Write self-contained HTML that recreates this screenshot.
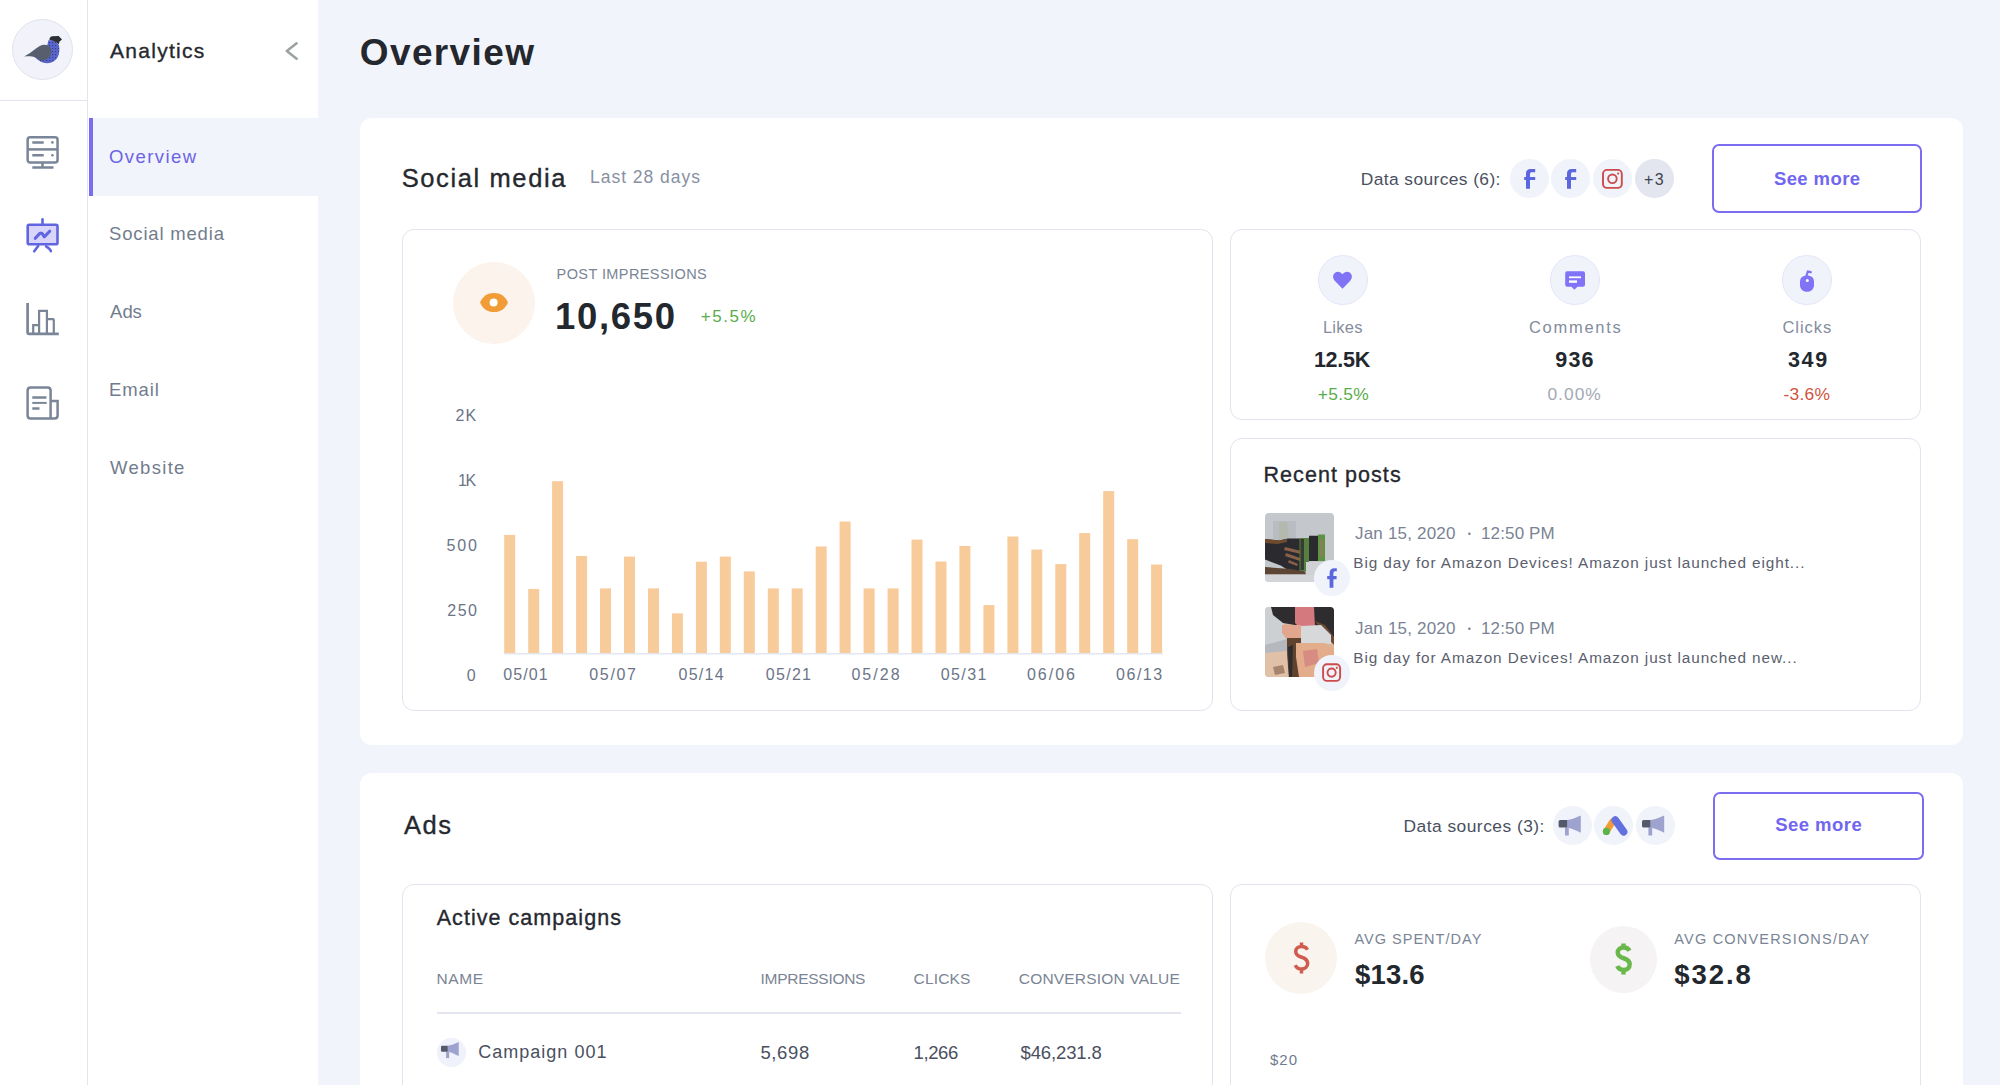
<!DOCTYPE html>
<html><head><meta charset="utf-8"><title>Overview</title>
<style>
*{box-sizing:border-box;margin:0;padding:0}
html,body{width:2000px;height:1085px;overflow:hidden}
body{background:#f2f4fb;font-family:"Liberation Sans",Arial,sans-serif;color:#23262d;position:relative}
.abs{position:absolute}
.t{position:absolute;line-height:1;white-space:nowrap}
.rail{left:0;top:0;width:88px;height:1085px;background:#fff;border-right:1px solid #e2e5ef}
.logo{left:12px;top:19px;width:61px;height:61px;border-radius:50%;background:#f1f2fa;border:1px solid #e0e3ec}
.rail-line{left:0;top:100px;width:87px;height:1px;background:#e2e5ef}
.subnav{left:88px;top:0;width:230px;height:1085px;background:#fff}
.navact{left:89px;top:118px;width:229px;height:78px;background:#f2f4fb;border-left:4px solid #7b6cf0}
.card{background:#fff;border-radius:12px}
.inner{background:#fff;border:1px solid #e1e4ee;border-radius:12px}
.btn{border:2px solid #7b6cf0;border-radius:7px;background:#fff}
.circ{border-radius:50%}
</style></head>
<body>
<!-- left rail -->
<div class="abs rail"></div>
<div class="abs logo"></div>
<svg class="abs" style="left:10px;top:15px" width="70" height="70" viewBox="0 0 70 70">
  <defs><pattern id="dith" width="3" height="3" patternUnits="userSpaceOnUse"><rect width="3" height="3" fill="#5b69e6"/><rect width="1.2" height="1.2" fill="#3a3f58"/><rect x="1.5" y="1.5" width="1" height="1" fill="#4a5270"/></pattern></defs>
  <path d="M38.4 25.2 L43 25.2 C46 26.5 48.5 28.5 49.2 31.5 C49.6 35 49.4 39 47.5 42.5 C45.5 46 42 48 37.5 48.3 C33.5 48.3 30 46.8 27.5 44.5 L24 41.6 L36 36 Z" fill="url(#dith)"/>
  <path d="M14.2 41.6 C18 39.5 22 36.5 26 33.5 C29 31.2 31.5 30 34.2 29.8 C37.5 29.8 40 31.2 41 33.5 C41.8 36 41.2 39 40.2 40.8 C38.8 43 36.5 45 33.5 45.6 C30.5 45.6 28.5 44.5 27.5 43.6 C25.5 42.2 23 41.4 20 41.3 C18 41.3 16 41.5 14.2 41.6 Z" fill="#575f6f"/>
  <path d="M39.4 24.8 C39.4 23 40.4 21.4 42 21.2 L48.7 21.1 L52 24.5 L49.4 26.8 L48.8 29.4 C47 27.4 44.5 25.8 42 25.4 Z" fill="#2c2f36"/>
</svg>
<div class="abs rail-line"></div>
<!-- server icon -->
<svg class="abs" style="left:20px;top:128px" width="46" height="46" viewBox="0 0 46 46" fill="none" stroke="#7a8597" stroke-width="2.5">
  <rect x="7.65" y="9.25" width="29.9" height="25.3" rx="2.5"/>
  <path d="M7.65 21.4 H37.55"/>
  <path d="M12.3 14.4 H23.7 M12.3 27.3 H23.7"/>
  <path d="M22.5 34.5 V39.4 M12.3 39.4 H33.5"/>
  <circle cx="32.4" cy="14.4" r="1.3" fill="#7a8597" stroke="none"/>
  <circle cx="32.4" cy="27.3" r="1.3" fill="#7a8597" stroke="none"/>
</svg>
<!-- presentation icon -->
<svg class="abs" style="left:20px;top:212px" width="46" height="46" viewBox="0 0 46 46" fill="none" stroke="#5f66e0" stroke-width="2.6" stroke-linecap="round" stroke-linejoin="round">
  <rect x="7.7" y="12.7" width="29.8" height="19.5" rx="1.5" fill="#d9d5fa"/>
  <path d="M22.5 7.4 V12.7"/>
  <path d="M15.3 26.3 L19.9 21.3 L22 21.3 L24.4 24.8 L29.7 19.2" stroke-width="3.1"/>
  <path d="M18.2 33.9 L14.2 39.3 M26.1 34.3 C28.5 35.8 30.6 37.3 30.9 39.3"/>
</svg>
<!-- bar chart icon -->
<svg class="abs" style="left:20px;top:296px" width="46" height="46" viewBox="0 0 46 46" fill="none" stroke="#7a8597" stroke-width="2.2">
  <path d="M7.6 7 V36.3 Q7.6 37.8 9 37.8 H38.8" stroke-width="2.7"/>
  <path d="M13.2 37 V29.1 H18.2 M19.1 37 V14.9 H26.9 V37 M26.9 23.1 H33 Q33.8 23.1 33.8 24 V37"/>
</svg>
<!-- document icon -->
<svg class="abs" style="left:20px;top:380px" width="46" height="46" viewBox="0 0 46 46" fill="none" stroke="#7a8597" stroke-width="2.5">
  <path d="M30.6 38.6 H10.5 Q7.6 38.6 7.6 35.6 V10.6 Q7.6 7.6 10.6 7.6 H27.6 Q30.6 7.6 30.6 10.6 V38.6 H34.6 Q37.6 38.6 37.6 35.6 V21.1 H30.6"/>
  <path d="M12.3 17.4 H26.4 M12.3 28.4 H19.5"/>
  <path d="M12.3 22.9 H26.7" stroke-width="2"/>
</svg>


<div class="abs subnav"></div><div class="abs navact"></div>
<svg class="abs" style="left:270px;top:30px" width="40" height="40" viewBox="0 0 40 40" fill="none" stroke="#9aa39e" stroke-width="2.6" stroke-linecap="round" stroke-linejoin="round"><path d="M26.6 13.3 L16.8 21 L26.6 28.7"/></svg>
<div class="abs card" style="left:360px;top:118px;width:1603px;height:627px"></div>
<div class="abs btn" style="left:1712px;top:144px;width:210px;height:69px"></div>
<div class="abs circ" style="left:1510.2px;top:159.2px;width:38.5px;height:38.5px;background:#f1f3fb"></div>
<div class="abs circ" style="left:1551.2px;top:159.2px;width:38.5px;height:38.5px;background:#f1f3fb"></div>
<div class="abs circ" style="left:1593.2px;top:159.2px;width:38.5px;height:38.5px;background:#f1f3fb"></div>
<div class="abs circ" style="left:1635.3px;top:159.2px;width:38.5px;height:38.5px;background:#e3e6ee"></div>
<svg class="abs" style="left:0;top:0" width="2000" height="1085"><path d="M1526 188.7 V173.6 Q1526 169 1530.6 169 H1535.2 V172.3 H1531.4 Q1530 172.3 1530 174 V188.7 Z M1524.2 176.9 H1535.2 V180 H1524.2 Z" fill="#5a67de"/><path d="M1567 188.7 V173.6 Q1567 169 1571.6 169 H1576.2 V172.3 H1572.4 Q1571 172.3 1571 174 V188.7 Z M1565.2 176.9 H1576.2 V180 H1565.2 Z" fill="#5a67de"/><rect x="1603" y="169.9" width="18.8" height="18" rx="4" fill="none" stroke="#cc4b4b" stroke-width="1.9"/><circle cx="1612.4" cy="178.8" r="4.3" fill="none" stroke="#cc4b4b" stroke-width="1.9"/><circle cx="1618.1" cy="173.6" r="1.1" fill="#cc4b4b"/></svg>
<div class="abs inner" style="left:402px;top:229px;width:811px;height:482px"></div>
<div class="abs inner" style="left:1230px;top:229px;width:691px;height:191px"></div>
<div class="abs inner" style="left:1230px;top:438px;width:691px;height:273px"></div>
<div class="abs circ" style="left:452.5px;top:261.6px;width:82px;height:82px;background:#fbf3ec"></div>
<svg class="abs" style="left:0;top:0" width="2000" height="1085"><path d="M480 302.5 C483 296 487.5 292.9 494 292.9 C500.5 292.9 505 296 508 302.5 C505 309 500.5 312.1 494 312.1 C487.5 312.1 483 309 480 302.5 Z" fill="#f29c38"/><circle cx="493.6" cy="302.6" r="4" fill="#fff"/></svg>
<svg class="abs" style="left:0;top:0" width="2000" height="1085"><g fill="#f8cb9b"><rect x="504.2" y="534.9" width="11" height="118.6"/><rect x="528.2" y="589.0" width="11" height="64.5"/><rect x="552.1" y="481.2" width="11" height="172.3"/><rect x="576.1" y="556.0" width="11" height="97.5"/><rect x="600.0" y="588.4" width="11" height="65.1"/><rect x="624.0" y="556.6" width="11" height="96.9"/><rect x="648.0" y="588.4" width="11" height="65.1"/><rect x="671.9" y="613.4" width="11" height="40.1"/><rect x="695.9" y="561.7" width="11" height="91.8"/><rect x="719.8" y="556.6" width="11" height="96.9"/><rect x="743.8" y="571.4" width="11" height="82.1"/><rect x="767.8" y="588.4" width="11" height="65.1"/><rect x="791.7" y="588.4" width="11" height="65.1"/><rect x="815.7" y="546.5" width="11" height="107.0"/><rect x="839.6" y="521.5" width="11" height="132.0"/><rect x="863.6" y="588.4" width="11" height="65.1"/><rect x="887.6" y="588.4" width="11" height="65.1"/><rect x="911.5" y="539.6" width="11" height="113.9"/><rect x="935.5" y="561.5" width="11" height="92.0"/><rect x="959.4" y="546.0" width="11" height="107.5"/><rect x="983.4" y="605.1" width="11" height="48.4"/><rect x="1007.4" y="536.5" width="11" height="117.0"/><rect x="1031.3" y="549.5" width="11" height="104.0"/><rect x="1055.3" y="564.1" width="11" height="89.4"/><rect x="1079.2" y="533.1" width="11" height="120.4"/><rect x="1103.2" y="491.1" width="11" height="162.4"/><rect x="1127.2" y="539.2" width="11" height="114.3"/><rect x="1151.1" y="564.5" width="11" height="89.0"/></g><rect x="504" y="653" width="659" height="1.5" fill="#e4e7ef"/></svg>
<div class="abs circ" style="left:1318px;top:255.3px;width:50px;height:50px;background:#f1f3fb;border:1px solid #e6e4fa"></div>
<div class="abs circ" style="left:1550px;top:255.3px;width:50px;height:50px;background:#f1f3fb;border:1px solid #e6e4fa"></div>
<div class="abs circ" style="left:1782px;top:255.3px;width:50px;height:50px;background:#f1f3fb;border:1px solid #e6e4fa"></div>
<svg class="abs" style="left:0;top:0" width="2000" height="1085"><g fill="#8073f5"><path d="M1342.5 288.7 L1335 281 C1332.4 278.3 1332.6 274.8 1334.8 273 C1337.2 271 1340.4 271.6 1342.5 274.3 C1344.6 271.6 1347.8 271 1350.2 273 C1352.4 274.8 1352.6 278.3 1350 281 Z"/><path d="M1567.2 271.2 H1583 Q1585 271.2 1585 273.2 V284.7 Q1585 286.7 1583 286.7 H1577.4 L1574.4 289.7 L1571.4 286.7 H1567.2 Q1565.2 286.7 1565.2 284.7 V273.2 Q1565.2 271.2 1567.2 271.2 Z"/><path d="M1807 275.6 C1811.6 275.6 1814 278 1814 282 V285 C1814 289.2 1811 291.8 1807 291.8 C1803 291.8 1800 289.2 1800 285 V282 C1800 278 1802.4 275.6 1807 275.6 Z"/></g><g stroke="#fff" stroke-width="1.8" stroke-linecap="butt"><path d="M1569 277.3 H1581"/><path d="M1569 281.6 H1577" stroke-width="2.4"/></g><path d="M1806.6 275.5 L1807.8 271.6 L1810.8 272.2" fill="none" stroke="#8073f5" stroke-width="2.2" stroke-linecap="round"/><circle cx="1807.3" cy="280.6" r="1.5" fill="#fff"/></svg>
<svg class="abs" style="left:1265px;top:513px" width="69" height="69" viewBox="0 0 69 69"><defs><clipPath id="c1"><rect width="69" height="69" rx="4"/></clipPath></defs><g clip-path="url(#c1)">
<rect width="69" height="69" fill="#c4c7cb"/>
<path d="M8 8 L31 8 L31 26 L8 28 Z" fill="#b9bdc2"/>
<path d="M14 9 L22 9 L24 26 L14 27 Z" fill="#b3b9ae"/>
<path d="M0 26 L14 27.5 L23 25.6 L38.5 25.6 L39 58.7 L27 59.6 L15.6 52.5 L0 46.5 Z" fill="#2b2b2f"/>
<path d="M0 26 L14 27.5 L22 26 L22 29 L13 31 L0 30 Z" fill="#6e4a2e"/>
<path d="M20 34 L36 38 L36 41 L19 37 Z M21 40 L35 45 L35 48 L20 43 Z M24 47 L33 51 L32 53 L23 49.5 Z" fill="#8a6048"/>
<path d="M34.5 25 L44 25 L44 58.5 L34.5 58.5 Z" fill="#56803f"/>
<path d="M35.5 26 L39 26 L39 57 L35.5 57 Z" fill="#3a3a35"/>
<path d="M44 22.8 L55 22.8 L55 48 L44 48 Z" fill="#2b2b2f"/>
<path d="M53 21.6 L60 21.6 L60 48 L53 48 Z" fill="#5a9444"/><path d="M55 26 L58 26 L58 44 L55 44 Z" fill="#b86a6a" opacity=".5"/>
<path d="M0 54 L26 56 L40 58.5 L41 61.5 L0 61.5 Z" fill="#5c4535"/>
<rect y="61.5" width="69" height="7.5" fill="#d3d5d8"/>
<path d="M41 49 L69 49 L69 61.5 L41 61.5 Z" fill="#cfd1d4"/>
</g></svg>
<svg class="abs" style="left:1265px;top:607px" width="69" height="70" viewBox="0 0 69 70"><defs><clipPath id="c2"><rect width="69" height="70" rx="4"/></clipPath></defs><g clip-path="url(#c2)">
<rect width="69" height="70" fill="#d9b59c"/>
<path d="M0 0 L19 0 L19 30 L28 33 L22 40 L0 46 Z" fill="#cdd0d3"/>
<path d="M0 38 L22 32 L30 34 L24 44 L0 47 Z" fill="#b5b9bd"/>
<path d="M6 0 L69 0 L69 36 L62 28 L50 18 L30 18 L18 16 L8 8 Z" fill="#2e2c2f"/>
<path d="M50 14 L60 18 L69 30 L69 38 L60 28 Z" fill="#6a4a35"/>
<path d="M30 0 L49 0 L50 20 L36 22 L30 16 Z" fill="#d47a7e"/>
<path d="M17 18 L36 18 L37 31 L22 32 L17 26 Z" fill="#e2a58e"/>
<path d="M36 19 L56 18 L66 28 L66 37 L36 36 Z" fill="#d6d8da"/>
<path d="M22 31 L36 31 L36 70 L24 70 L22 50 Z" fill="#5f432f"/>
<path d="M23 40 L28 38 L27 70 L24 70 Z" fill="#2f2c2d"/>
<path d="M31 36 L60 36 L69 42 L69 70 L34 70 L31 50 Z" fill="#e3ad8c"/>
<path d="M38 44 L52 42 L54 56 L40 60 Z" fill="#d27d7f" opacity=".7"/>
<path d="M0 46 L22 44 L23 70 L0 70 Z" fill="#e0c0a7"/>
<path d="M8 60 L18 58 L20 66 L10 68 Z" fill="#8d6a52" opacity=".7"/>
</g></svg>
<svg class="abs" style="left:0;top:0" width="2000" height="1085"><circle cx="1469.4" cy="533.8" r="1.3" fill="#7a8394"/><circle cx="1469.4" cy="628.8" r="1.3" fill="#7a8394"/></svg>
<div class="abs circ" style="left:1313.8px;top:560.1px;width:36px;height:36px;background:#f1f3fb"></div>
<div class="abs circ" style="left:1313.8px;top:654.5px;width:36px;height:36px;background:#f1f3fb"></div>
<svg class="abs" style="left:0;top:0" width="2000" height="1085"><path d="M1329.6 587.7 V573 Q1329.6 568.2 1334.4 568.2 H1336.8 V571.3 H1335 Q1333.4 571.3 1333.4 573.2 V587.7 Z M1327.2 576 H1336.6 V579.2 H1327.2 Z" fill="#5a67de"/><rect x="1323.1" y="664.3" width="17" height="16.6" rx="3.8" fill="none" stroke="#cc4b4b" stroke-width="1.9"/><circle cx="1331.6" cy="672.6" r="4.1" fill="none" stroke="#cc4b4b" stroke-width="1.9"/><circle cx="1336.8" cy="667.8" r="1.1" fill="#cc4b4b"/></svg>
<div class="abs card" style="left:360px;top:773px;width:1603px;height:400px"></div>
<div class="abs btn" style="left:1713px;top:792px;width:211px;height:68px"></div>
<div class="abs circ" style="left:1553.0px;top:806px;width:38.5px;height:38.5px;background:#f1f3fb"></div>
<div class="abs circ" style="left:1594.2px;top:806px;width:38.5px;height:38.5px;background:#f1f3fb"></div>
<div class="abs circ" style="left:1636.3px;top:806px;width:38.5px;height:38.5px;background:#f1f3fb"></div>
<svg class="abs" style="left:0;top:0" width="2000" height="1085"><g transform="translate(1553,806)"><path d="M14 14.1 C18 13.6 23 11.6 27.8 9.4 V26.8 C23 24.6 18 22 14 21.5 Z" fill="#9ea2cf"/><path d="M12 21.5 H15.8 V29.5 H12 Z" fill="#9ea2cf"/><path d="M7.1 14.1 H14.1 V21.5 H7.1 Q5.6 21.5 5.6 20 V15.6 Q5.6 14.1 7.1 14.1 Z" fill="#535a6b"/></g><g transform="translate(1636.4,806)"><path d="M14 14.1 C18 13.6 23 11.6 27.8 9.4 V26.8 C23 24.6 18 22 14 21.5 Z" fill="#9ea2cf"/><path d="M12 21.5 H15.8 V29.5 H12 Z" fill="#9ea2cf"/><path d="M7.1 14.1 H14.1 V21.5 H7.1 Q5.6 21.5 5.6 20 V15.6 Q5.6 14.1 7.1 14.1 Z" fill="#535a6b"/></g><path d="M1612.3 822 L1607 830.6" stroke="#f29c38" stroke-width="6.6" stroke-linecap="round"/><path d="M1615.2 820 L1623.6 831.8" stroke="#6270e0" stroke-width="7.6" stroke-linecap="round"/><circle cx="1606.4" cy="831.4" r="3.6" fill="#5cb346"/></svg>
<div class="abs inner" style="left:402px;top:884px;width:811px;height:300px"></div>
<div class="abs inner" style="left:1230px;top:884px;width:691px;height:300px"></div>
<div class="abs" style="left:437px;top:1012px;width:744px;height:2px;background:#e3e6ee"></div>
<div class="abs circ" style="left:437.1px;top:1037.5px;width:29.4px;height:29.4px;background:#eff1fb"></div>
<svg class="abs" style="left:0;top:0" width="2000" height="1085"><g transform="translate(436.5,1034.5) scale(0.8)"><path d="M14 14.1 C18 13.6 23 11.6 27.8 9.4 V26.8 C23 24.6 18 22 14 21.5 Z" fill="#9ea2cf"/><path d="M12 21.5 H15.8 V29.5 H12 Z" fill="#9ea2cf"/><path d="M7.1 14.1 H14.1 V21.5 H7.1 Q5.6 21.5 5.6 20 V15.6 Q5.6 14.1 7.1 14.1 Z" fill="#535a6b"/></g></svg>
<div class="abs circ" style="left:1265px;top:922.1px;width:72px;height:72px;background:#faf4ef"></div>
<div class="abs circ" style="left:1590px;top:926px;width:67px;height:67px;background:#f5f3f3"></div>
<svg class="abs" style="left:1292.5px;top:941.5px" width="17" height="32" viewBox="0 0 16 30" preserveAspectRatio="none"><path d="M13.6 7.2 C12.6 5.2 10.6 4.2 8 4.2 C4.8 4.2 2.6 6.1 2.6 8.8 C2.6 12 5.4 13.4 8.2 14.3 C11.4 15.3 13.8 16.8 13.8 20.2 C13.8 23.3 11.3 25.3 8 25.3 C5.2 25.3 3.1 24 2.2 21.6 M8 0.5 V4.2 M8 25.3 V29.5" fill="none" stroke="#d05c50" stroke-width="3.3"/></svg>
<svg class="abs" style="left:1615px;top:943px" width="17" height="32" viewBox="0 0 16 30" preserveAspectRatio="none"><path d="M13.6 7.2 C12.6 5.2 10.6 4.2 8 4.2 C4.8 4.2 2.6 6.1 2.6 8.8 C2.6 12 5.4 13.4 8.2 14.3 C11.4 15.3 13.8 16.8 13.8 20.2 C13.8 23.3 11.3 25.3 8 25.3 C5.2 25.3 3.1 24 2.2 21.6 M8 0.5 V4.2 M8 25.3 V29.5" fill="none" stroke="#6ab74c" stroke-width="4.2"/></svg>
<div class="t" style="left:110.1px;top:40.0px;font-size:21px;font-weight:400;color:#25282e;letter-spacing:1.26px;-webkit-text-stroke:0.35px currentColor">Analytics</div>
<div class="t" style="left:109.0px;top:147.7px;font-size:18.5px;font-weight:400;color:#6c63e6;letter-spacing:1.43px;">Overview</div>
<div class="t" style="left:109.1px;top:224.8px;font-size:18.5px;font-weight:400;color:#727c8d;letter-spacing:0.81px;">Social media</div>
<div class="t" style="left:110.1px;top:303.0px;font-size:18.5px;font-weight:400;color:#727c8d;letter-spacing:-0.05px;">Ads</div>
<div class="t" style="left:109.1px;top:381.0px;font-size:18.5px;font-weight:400;color:#727c8d;letter-spacing:0.85px;">Email</div>
<div class="t" style="left:110.1px;top:458.8px;font-size:18.5px;font-weight:400;color:#727c8d;letter-spacing:1.30px;">Website</div>
<div class="t" style="left:359.8px;top:34.3px;font-size:37px;font-weight:700;color:#24272d;letter-spacing:1.37px;">Overview</div>
<div class="t" style="left:401.7px;top:165.7px;font-size:25.5px;font-weight:400;color:#25282e;letter-spacing:1.61px;-webkit-text-stroke:0.35px currentColor">Social media</div>
<div class="t" style="left:590.0px;top:169.0px;font-size:17.5px;font-weight:400;color:#8790a3;letter-spacing:0.98px;">Last 28 days</div>
<div class="t" style="left:1360.8px;top:170.8px;font-size:17.4px;font-weight:400;color:#4a5060;letter-spacing:0.39px;">Data sources (6):</div>
<div class="t" style="left:1773.9px;top:169.7px;font-size:18.5px;font-weight:700;color:#7166f0;letter-spacing:0.41px;">See more</div>
<div class="t" style="left:1644.0px;top:171.7px;font-size:16px;font-weight:400;color:#3e4350;letter-spacing:1.40px;">+3</div>
<div class="t" style="left:556.6px;top:266.7px;font-size:14.5px;font-weight:400;color:#7a8494;letter-spacing:0.41px;">POST IMPRESSIONS</div>
<div class="t" style="left:555.0px;top:299.4px;font-size:36.5px;font-weight:700;color:#23272e;letter-spacing:1.68px;">10,650</div>
<div class="t" style="left:700.8px;top:308.3px;font-size:17px;font-weight:400;color:#5aac4a;letter-spacing:1.53px;">+5.5%</div>
<div class="t" style="left:1322.9px;top:318.8px;font-size:16.5px;font-weight:400;color:#838c9c;letter-spacing:0.27px;">Likes</div>
<div class="t" style="left:1528.9px;top:318.8px;font-size:16.5px;font-weight:400;color:#838c9c;letter-spacing:1.73px;">Comments</div>
<div class="t" style="left:1782.4px;top:318.8px;font-size:16.5px;font-weight:400;color:#838c9c;letter-spacing:0.98px;">Clicks</div>
<div class="t" style="left:1313.9px;top:349.8px;font-size:21.5px;font-weight:700;color:#23272e;letter-spacing:-0.23px;">12.5K</div>
<div class="t" style="left:1555.2px;top:349.8px;font-size:21.5px;font-weight:700;color:#23272e;letter-spacing:1.25px;">936</div>
<div class="t" style="left:1788.0px;top:349.8px;font-size:21.5px;font-weight:700;color:#23272e;letter-spacing:1.65px;">349</div>
<div class="t" style="left:1317.7px;top:386.0px;font-size:17.4px;font-weight:400;color:#5aac4a;letter-spacing:0.32px;">+5.5%</div>
<div class="t" style="left:1547.4px;top:386.0px;font-size:17.4px;font-weight:400;color:#a3a9b3;letter-spacing:1.02px;">0.00%</div>
<div class="t" style="left:1783.4px;top:386.0px;font-size:17.4px;font-weight:400;color:#d0533c;letter-spacing:0.27px;">-3.6%</div>
<div class="t" style="left:1263.5px;top:464.8px;font-size:21.5px;font-weight:400;color:#25282e;letter-spacing:1.06px;-webkit-text-stroke:0.35px currentColor">Recent posts</div>
<div class="t" style="left:1355.0px;top:525.3px;font-size:17px;font-weight:400;color:#7a8394;letter-spacing:0.19px;">Jan 15, 2020</div>
<div class="t" style="left:1481.0px;top:525.3px;font-size:17px;font-weight:400;color:#7a8394;letter-spacing:0.14px;">12:50 PM</div>
<div class="t" style="left:1353.3px;top:554.9px;font-size:15.3px;font-weight:400;color:#5a606d;letter-spacing:0.92px;">Big day for Amazon Devices! Amazon just launched eight...</div>
<div class="t" style="left:1355.0px;top:620.1px;font-size:17px;font-weight:400;color:#7a8394;letter-spacing:0.19px;">Jan 15, 2020</div>
<div class="t" style="left:1481.0px;top:620.1px;font-size:17px;font-weight:400;color:#7a8394;letter-spacing:0.14px;">12:50 PM</div>
<div class="t" style="left:1353.3px;top:649.9px;font-size:15.3px;font-weight:400;color:#5a606d;letter-spacing:0.92px;">Big day for Amazon Devices! Amazon just launched new...</div>
<div class="t" style="left:404.0px;top:813.3px;font-size:25.5px;font-weight:400;color:#25282e;letter-spacing:1.50px;-webkit-text-stroke:0.35px currentColor">Ads</div>
<div class="t" style="left:1403.5px;top:818.0px;font-size:17.4px;font-weight:400;color:#4a5060;letter-spacing:0.47px;">Data sources (3):</div>
<div class="t" style="left:1775.2px;top:816.4px;font-size:18.5px;font-weight:700;color:#7166f0;letter-spacing:0.46px;">See more</div>
<div class="t" style="left:436.7px;top:908.4px;font-size:21.5px;font-weight:400;color:#25282e;letter-spacing:1.05px;-webkit-text-stroke:0.35px currentColor">Active campaigns</div>
<div class="t" style="left:436.6px;top:971.4px;font-size:15.5px;font-weight:400;color:#7a8494;letter-spacing:0.53px;">NAME</div>
<div class="t" style="left:760.5px;top:971.4px;font-size:15.5px;font-weight:400;color:#7a8494;letter-spacing:-0.27px;">IMPRESSIONS</div>
<div class="t" style="left:913.6px;top:971.4px;font-size:15.5px;font-weight:400;color:#7a8494;letter-spacing:0.16px;">CLICKS</div>
<div class="t" style="left:1018.8px;top:971.4px;font-size:15.5px;font-weight:400;color:#7a8494;letter-spacing:0.19px;">CONVERSION VALUE</div>
<div class="t" style="left:478.2px;top:1043.1px;font-size:18px;font-weight:400;color:#4a5060;letter-spacing:1.02px;">Campaign 001</div>
<div class="t" style="left:760.4px;top:1043.5px;font-size:18.5px;font-weight:400;color:#4a5060;letter-spacing:0.65px;">5,698</div>
<div class="t" style="left:913.6px;top:1043.5px;font-size:18.5px;font-weight:400;color:#4a5060;letter-spacing:-0.43px;">1,266</div>
<div class="t" style="left:1020.6px;top:1043.5px;font-size:18.5px;font-weight:400;color:#4a5060;letter-spacing:-0.15px;">$46,231.8</div>
<div class="t" style="left:1354.4px;top:931.8px;font-size:14.5px;font-weight:400;color:#7a8494;letter-spacing:1.02px;">AVG SPENT/DAY</div>
<div class="t" style="left:1674.3px;top:931.8px;font-size:14.5px;font-weight:400;color:#7a8494;letter-spacing:1.19px;">AVG CONVERSIONS/DAY</div>
<div class="t" style="left:1355.0px;top:960.8px;font-size:27.5px;font-weight:700;color:#23272e;letter-spacing:0.19px;">$13.6</div>
<div class="t" style="left:1674.3px;top:960.8px;font-size:27.5px;font-weight:700;color:#23272e;letter-spacing:1.93px;">$32.8</div>
<div class="t" style="left:1270.0px;top:1051.8px;font-size:15px;font-weight:400;color:#717b8e;letter-spacing:1.00px;">$20</div>
<div class="t" style="left:455.5px;top:408.3px;font-size:16px;font-weight:400;color:#6b7587;letter-spacing:1.20px;">2K</div>
<div class="t" style="left:457.9px;top:473.1px;font-size:16px;font-weight:400;color:#6b7587;letter-spacing:-1.20px;">1K</div>
<div class="t" style="left:446.4px;top:537.6px;font-size:16px;font-weight:400;color:#6b7587;letter-spacing:1.95px;">500</div>
<div class="t" style="left:447.3px;top:603.0px;font-size:16px;font-weight:400;color:#6b7587;letter-spacing:1.50px;">250</div>
<div class="t" style="left:466.8px;top:668.0px;font-size:16px;font-weight:400;color:#6b7587;letter-spacing:0.00px;">0</div>
<div class="t" style="left:503.2px;top:666.8px;font-size:16px;font-weight:400;color:#6b7587;letter-spacing:1.13px;">05/01</div>
<div class="t" style="left:589.3px;top:666.8px;font-size:16px;font-weight:400;color:#6b7587;letter-spacing:1.65px;">05/07</div>
<div class="t" style="left:678.5px;top:666.8px;font-size:16px;font-weight:400;color:#6b7587;letter-spacing:1.25px;">05/14</div>
<div class="t" style="left:765.8px;top:666.8px;font-size:16px;font-weight:400;color:#6b7587;letter-spacing:1.28px;">05/21</div>
<div class="t" style="left:851.4px;top:666.8px;font-size:16px;font-weight:400;color:#6b7587;letter-spacing:2.03px;">05/28</div>
<div class="t" style="left:940.7px;top:666.8px;font-size:16px;font-weight:400;color:#6b7587;letter-spacing:1.40px;">05/31</div>
<div class="t" style="left:1026.9px;top:666.8px;font-size:16px;font-weight:400;color:#6b7587;letter-spacing:2.00px;">06/06</div>
<div class="t" style="left:1116.1px;top:666.8px;font-size:16px;font-weight:400;color:#6b7587;letter-spacing:1.50px;">06/13</div>
</body></html>
